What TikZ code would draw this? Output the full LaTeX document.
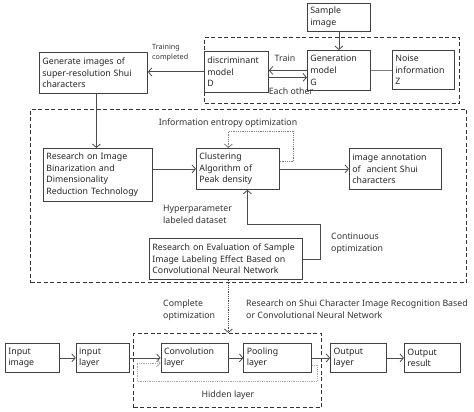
\documentclass[tikz,border=0pt]{standalone}
\usepackage{fontspec}
\setmainfont{Noto Sans}
\usetikzlibrary{arrows.meta,positioning}
\tikzset{
box/.style={draw=black!75,line width=0.8pt,inner sep=3pt,align=left,anchor=north west,
font=\fontsize{8.8}{11.6}\selectfont,text=black!85},
frame/.style={draw=black!80,line width=1pt,dash pattern=on 4pt off 2.5pt,inner sep=0pt,anchor=north west},
link/.style={-{Straight Barb[length=3.5pt,width=8pt]},draw=black!70,line width=0.8pt},
dotlink/.style={link,densely dotted},
softloop/.style={-{Straight Barb[length=3.5pt,width=8pt]},draw=black!35,line width=0.8pt,densely dotted},
note/.style={font=\fontsize{8.8}{11.6}\selectfont,align=left,text=black!80,inner sep=0pt},
smallnote/.style={font=\fontsize{7.2}{9.5}\selectfont,align=left,text=black!80,inner sep=0pt}
}
\begin{document}
\begin{tikzpicture}[x=1pt,y=-1pt]
\useasboundingbox (0,0) rectangle (474,412);
% GAN part
\node[frame,minimum width=255pt,minimum height=66pt] (ganframe) at (204,37) {};
\node[box,text width=57pt,minimum height=28pt] (sample) at (307,3) {Sample\\image};
\node[box,text width=58pt,minimum height=41pt] (disc) at (204,51) {discriminant\\model\\D};
\node[box,text width=57pt,minimum height=40pt] (gen) at (307,50) {Generation\\model\\G};
\node[box,text width=56pt,minimum height=39pt] (noise) at (392,50) {Noise\\information\\Z};
\node[box,text width=102pt,minimum height=41pt] (genimg) at (39,52) {Generate images of\\super-resolution Shui\\characters};
\draw[link] (sample) -- (gen);
\draw[link] (disc.west) -- (disc.west -| genimg.east);
\draw[link] (gen.west) -- (gen.west -| disc.east);
\draw[link] ([yshift=-5.5pt]disc.east) -- ([yshift=-5.5pt]disc.east -| gen.west);
\draw[draw=black!50,line width=0.8pt] (gen.east) -- (gen.east -| noise.west);
\node[smallnote,anchor=north west] (trdone) at (152,44) {Training\\completed};
\node[note] (trainlbl) at (285,58) {Train};
\node[note] (eachlbl) at (291,91) {Each other};
% annotation part
\node[frame,minimum width=436pt,minimum height=173pt] (midframe) at (30,109) {};
\node[box,text width=103pt,minimum height=53pt] (binar) at (43,148) {Research on Image\\Binarization and\\Dimensionality\\Reduction Technology};
\node[box,text width=77pt,minimum height=41pt] (clust) at (196,148) {Clustering\\Algorithm of\\Peak density};
\node[box,text width=86pt,minimum height=41pt] (annot) at (349,148) {image annotation\\of\ \ ancient Shui\\characters};
\node[box,text width=147pt,minimum height=41pt] (evalr) at (149,238) {Research on Evaluation of Sample\\Image Labeling Effect Based on\\Convolutional Neural Network};
\draw[link] ([xshift=3pt]genimg.south) -- ([xshift=3pt]genimg.south |- binar.north);
\draw[link] (clust.west -| binar.east) -- (clust.west);
\draw[link] (clust.east) -- (annot.west);
\draw[draw=black!50,line width=0.8pt,densely dotted,-{Straight Barb[length=3.5pt,width=8pt]}]
  ([yshift=7.5pt]clust.east) -- ++(14,0) -- ++(0,-30) -| ([xshift=-9.5pt]clust.north);
\draw[link] (evalr.east) -| (320,224) -| ([xshift=9.5pt]clust.south);
\node[note] (entropy) at (228,123) {Information entropy optimization};
\node[note,anchor=north west] (hyper) at (163,205) {Hyperparameter\\labeled dataset};
\node[note,anchor=north west] (contopt) at (331,233) {Continuous\\optimization};
% recognition part
\node[frame,minimum width=188pt,minimum height=74pt] (hidframe) at (133,333) {};
\node[box,text width=48pt,minimum height=29pt] (inimg) at (5,343) {Input\\image};
\node[box,text width=47pt,minimum height=29pt,right=16pt of inimg] (inlay) {input\\layer};
\node[box,text width=61pt,minimum height=29pt,right=31pt of inlay] (conv) {Convolution\\layer};
\node[box,text width=62pt,minimum height=29pt,right=15pt of conv] (pool) {Pooling\\layer};
\node[box,text width=50pt,minimum height=29pt,right=18pt of pool] (outlay) {Output\\layer};
\node[box,text width=50pt,minimum height=29pt,right=17pt of outlay] (outres) {Output\\result};
\draw[dotlink] ([xshift=2.5pt]evalr.south) -- ([xshift=2.5pt]evalr.south |- hidframe.north);
\draw[link] (inimg) -- (inlay);
\draw[link] (inlay) -- (conv);
\draw[link] (conv) -- (pool);
\draw[link] (pool) -- (outlay);
\draw[link] (outlay) -- (outres);
\draw[softloop] ([yshift=-7pt]pool.east) -- ++(5,0) |- (137,381) |- ([yshift=-5pt]conv.west);
\node[note,anchor=north west] (compopt) at (163,300) {Complete\\optimization};
\node[note,anchor=north west] (shuirec) at (246,300) {Research on Shui Character Image Recognition Based\\or Convolutional Neural Network};
\node[note] (hidlbl) at (228,395) {Hidden layer};
\end{tikzpicture}
\end{document}
